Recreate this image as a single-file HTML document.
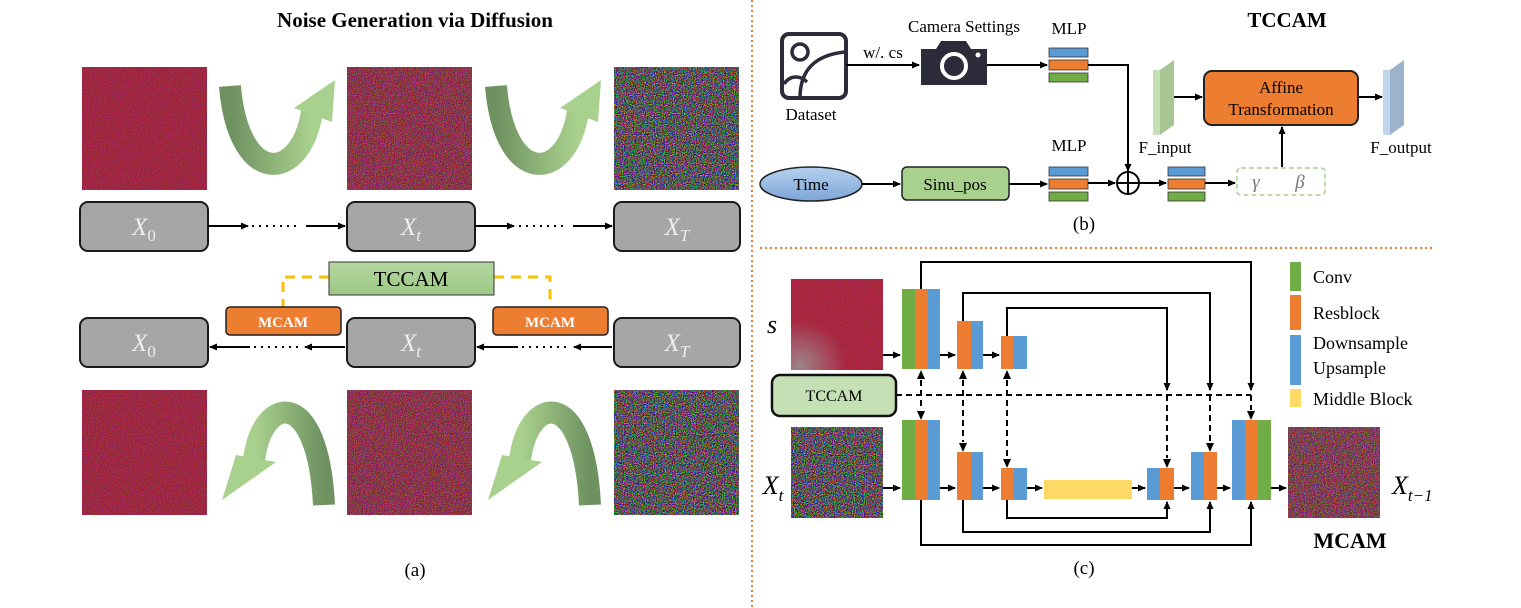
<!DOCTYPE html>
<html><head><meta charset="utf-8"><style>
html,body{margin:0;padding:0;background:#fff;}
svg{display:block;font-family:"Liberation Serif",serif;}
</style></head><body>
<svg width="1521" height="608" viewBox="0 0 1521 608" xmlns="http://www.w3.org/2000/svg">
<defs>
<filter id="nz" x="0" y="0" width="100%" height="100%">
<feTurbulence type="fractalNoise" baseFrequency="0.9" numOctaves="1" seed="3"/>
<feColorMatrix values="4 -1 -1 0 -0.9  -1 4 -1 0 -0.9  -1 -1 4 0 -0.9  0 0 0 0 1"/>
</filter>
<marker id="ah" markerWidth="8" markerHeight="8" refX="7" refY="4" orient="auto" markerUnits="userSpaceOnUse"><path d="M0,0.5 L8,4 L0,7.5 z" fill="#000"/></marker>
<linearGradient id="gA" x1="0" y1="0" x2="1" y2="0"><stop offset="0" stop-color="#6e9160"/><stop offset="1" stop-color="#a9d18e"/></linearGradient>
<linearGradient id="gB" x1="1" y1="0" x2="0" y2="0"><stop offset="0" stop-color="#6e9160"/><stop offset="1" stop-color="#a9d18e"/></linearGradient>
<linearGradient id="tm" x1="0" y1="0" x2="0" y2="1"><stop offset="0" stop-color="#b4d0ee"/><stop offset="1" stop-color="#7ea6d8"/></linearGradient>
<linearGradient id="tg" x1="0" y1="0" x2="0" y2="1"><stop offset="0" stop-color="#b5d7a0"/><stop offset="1" stop-color="#9cc886"/></linearGradient>
<radialGradient id="sg" cx="0.1" cy="0.95" r="0.5"><stop offset="0" stop-color="#9a9a9a" stop-opacity="0.8"/><stop offset="1" stop-color="#9a9a9a" stop-opacity="0"/></radialGradient>
</defs>

<line x1="752" y1="0" x2="752" y2="608" stroke="#ed7d31" stroke-width="2" stroke-dasharray="2,3"/>
<line x1="760" y1="248" x2="1432" y2="248" stroke="#ed7d31" stroke-width="2" stroke-dasharray="2,3"/>

<text x="415" y="27" font-size="21" font-weight="bold" text-anchor="middle">Noise Generation via Diffusion</text>

<g>
<rect x="82" y="67" width="125" height="123" fill="#a8203f"/><rect x="82" y="67" width="125" height="123" filter="url(#nz)" opacity="0.12"/>
<rect x="347" y="67" width="125" height="123" fill="#a02646"/><rect x="347" y="67" width="125" height="123" filter="url(#nz)" opacity="0.3"/>
<rect x="614" y="67" width="125" height="123" fill="#5e4858"/><rect x="614" y="67" width="125" height="123" filter="url(#nz)" opacity="0.7"/>
<rect x="82" y="390" width="125" height="125" fill="#a8203f"/><rect x="82" y="390" width="125" height="125" filter="url(#nz)" opacity="0.15"/>
<rect x="347" y="390" width="125" height="125" fill="#a02646"/><rect x="347" y="390" width="125" height="125" filter="url(#nz)" opacity="0.3"/>
<rect x="614" y="390" width="125" height="125" fill="#5e4858"/><rect x="614" y="390" width="125" height="125" filter="url(#nz)" opacity="0.7"/>
</g>

<g fill="none" stroke-width="22">
<path d="M230,86 C238,185 300,185 312,112" stroke="url(#gA)"/>
<path d="M496,86 C504,185 566,185 578,112" stroke="url(#gA)"/>
<path d="M324,505 C318,385 262,395 254,460" stroke="url(#gB)"/>
<path d="M590,505 C584,385 528,395 520,460" stroke="url(#gB)"/>
</g>
<polygon points="294,108 335,80 332,122" fill="#a9d18e"/>
<polygon points="560,108 601,80 598,122" fill="#a9d18e"/>
<polygon points="236,455 276,462 222,500" fill="#a9d18e"/>
<polygon points="502,455 542,462 488,500" fill="#a9d18e"/>

<g fill="#a6a6a6" stroke="#1a1a1a" stroke-width="2">
<rect x="80" y="202" width="128" height="49" rx="8"/>
<rect x="347" y="202" width="128" height="49" rx="8"/>
<rect x="614" y="202" width="126" height="49" rx="8"/>
<rect x="80" y="318" width="128" height="49" rx="8"/>
<rect x="347" y="318" width="128" height="49" rx="8"/>
<rect x="614" y="318" width="126" height="49" rx="8"/>
</g>
<g fill="#eeeeee" font-style="italic" font-size="25" text-anchor="middle">
<text x="144" y="235">X<tspan font-size="17" font-style="normal" dy="6">0</tspan></text>
<text x="411" y="235">X<tspan font-size="17" dy="6">t</tspan></text>
<text x="677" y="235">X<tspan font-size="17" dy="6">T</tspan></text>
<text x="144" y="351">X<tspan font-size="17" font-style="normal" dy="6">0</tspan></text>
<text x="411" y="351">X<tspan font-size="17" dy="6">t</tspan></text>
<text x="677" y="351">X<tspan font-size="17" dy="6">T</tspan></text>
</g>
<g stroke="#000" stroke-width="2" fill="none">
<line x1="208" y1="226" x2="248" y2="226" marker-end="url(#ah)"/>
<line x1="306" y1="226" x2="345" y2="226" marker-end="url(#ah)"/>
<line x1="475" y1="226" x2="514" y2="226" marker-end="url(#ah)"/>
<line x1="573" y1="226" x2="612" y2="226" marker-end="url(#ah)"/>
<line x1="252" y1="226" x2="298" y2="226" stroke-dasharray="2,5"/>
<line x1="519" y1="226" x2="566" y2="226" stroke-dasharray="2,5"/>
<line x1="250" y1="347" x2="210" y2="347" marker-end="url(#ah)"/>
<line x1="345" y1="347" x2="305" y2="347" marker-end="url(#ah)"/>
<line x1="612" y1="347" x2="574" y2="347" marker-end="url(#ah)"/>
<line x1="518" y1="347" x2="477" y2="347" marker-end="url(#ah)"/>
<line x1="254" y1="347" x2="298" y2="347" stroke-dasharray="2,5"/>
<line x1="522" y1="347" x2="566" y2="347" stroke-dasharray="2,5"/>
</g>
<path d="M329,277 H283 V307 M494,277 H550 V307" stroke="#ffc000" stroke-width="3" fill="none" stroke-dasharray="10,7"/>
<rect x="329" y="262" width="165" height="33" fill="url(#tg)" stroke="#333" stroke-width="1"/>
<text x="411" y="286" font-size="21" text-anchor="middle">TCCAM</text>
<rect x="226" y="307" width="115" height="28" rx="4" fill="#ed7d31" stroke="#222" stroke-width="1.5"/>
<rect x="493" y="307" width="115" height="28" rx="4" fill="#ed7d31" stroke="#222" stroke-width="1.5"/>
<text x="283" y="327" font-size="15" font-weight="bold" fill="#fff" text-anchor="middle">MCAM</text>
<text x="550" y="327" font-size="15" font-weight="bold" fill="#fff" text-anchor="middle">MCAM</text>
<text x="415" y="576" font-size="19" text-anchor="middle">(a)</text>

<text x="1287" y="27" font-size="21" font-weight="bold" text-anchor="middle">TCCAM</text>
<rect x="782" y="34" width="64" height="64" rx="7" fill="#fff" stroke="#2b2b3a" stroke-width="4"/>
<circle cx="800" cy="52" r="8" fill="none" stroke="#2b2b3a" stroke-width="3.5"/>
<path d="M800,98 C800,70 815,55 845,52" fill="none" stroke="#2b2b3a" stroke-width="3.5"/>
<path d="M784,84 C790,75 800,75 807,82" fill="none" stroke="#2b2b3a" stroke-width="3.5"/>
<text x="811" y="120" font-size="17" text-anchor="middle">Dataset</text>
<text x="883" y="58" font-size="17" text-anchor="middle">w/. cs</text>
<line x1="846" y1="65" x2="919" y2="65" stroke="#000" stroke-width="2" marker-end="url(#ah)"/>
<path d="M921,49 H936 L941,41 H966 L971,49 H987 V85 H921 Z" fill="#2b2b3a"/>
<circle cx="954" cy="66" r="12" fill="none" stroke="#fff" stroke-width="4"/>
<circle cx="978" cy="55" r="2.5" fill="#fff"/>
<text x="964" y="32" font-size="17" text-anchor="middle">Camera Settings</text>
<line x1="987" y1="65" x2="1047" y2="65" stroke="#000" stroke-width="2" marker-end="url(#ah)"/>
<text x="1069" y="34" font-size="17" text-anchor="middle">MLP</text>
<g stroke="#333" stroke-width="0.8">
<rect x="1049" y="48" width="39" height="9" fill="#5b9bd5"/>
<rect x="1049" y="60" width="39" height="10" fill="#ed7d31"/>
<rect x="1049" y="73" width="39" height="9" fill="#70ad47"/>
<rect x="1049" y="167" width="39" height="9" fill="#5b9bd5"/>
<rect x="1049" y="179" width="39" height="10" fill="#ed7d31"/>
<rect x="1049" y="192" width="39" height="9" fill="#70ad47"/>
<rect x="1168" y="167" width="37" height="9" fill="#5b9bd5"/>
<rect x="1168" y="179" width="37" height="10" fill="#ed7d31"/>
<rect x="1168" y="192" width="37" height="9" fill="#70ad47"/>
</g>
<text x="1069" y="151" font-size="17" text-anchor="middle">MLP</text>
<path d="M1088,65 H1128 V171" stroke="#000" stroke-width="2" fill="none" marker-end="url(#ah)"/>
<circle cx="1128" cy="183" r="11" fill="none" stroke="#000" stroke-width="2"/>
<line x1="1117" y1="183" x2="1139" y2="183" stroke="#000" stroke-width="2"/>
<line x1="1128" y1="172" x2="1128" y2="194" stroke="#000" stroke-width="2"/>
<ellipse cx="811" cy="184" rx="51" ry="17" fill="url(#tm)" stroke="#222" stroke-width="1.5"/>
<text x="811" y="190" font-size="17" text-anchor="middle">Time</text>
<rect x="902" y="167" width="107" height="33" rx="5" fill="#a9d18e" stroke="#222" stroke-width="1.5"/>
<text x="955" y="190" font-size="17" text-anchor="middle">Sinu_pos</text>
<g stroke="#000" stroke-width="2">
<line x1="862" y1="184" x2="900" y2="184" marker-end="url(#ah)"/>
<line x1="1009" y1="184" x2="1047" y2="184" marker-end="url(#ah)"/>
<line x1="1088" y1="183" x2="1115" y2="183" marker-end="url(#ah)"/>
<line x1="1139" y1="183" x2="1166" y2="183" marker-end="url(#ah)"/>
<line x1="1205" y1="183" x2="1235" y2="183" marker-end="url(#ah)"/>
<line x1="1282" y1="167" x2="1282" y2="127" marker-end="url(#ah)"/>
<line x1="1174" y1="97" x2="1202" y2="97" marker-end="url(#ah)"/>
<line x1="1358" y1="97" x2="1382" y2="97" marker-end="url(#ah)"/>
</g>
<rect x="1237" y="168" width="88" height="27" rx="4" fill="none" stroke="#a9d18e" stroke-width="1.5" stroke-dasharray="5,3"/>
<text x="1256" y="188" font-size="19" font-style="italic" fill="#777" text-anchor="middle">γ</text>
<text x="1300" y="188" font-size="19" font-style="italic" fill="#777" text-anchor="middle">β</text>
<polygon points="1160,70 1174,60 1174,125 1160,135" fill="#a8c594"/>
<polygon points="1153,70 1160,70 1160,135 1153,135" fill="#c5e0b4"/>
<polygon points="1390,70 1404,60 1404,125 1390,135" fill="#9db3cc"/>
<polygon points="1383,70 1390,70 1390,135 1383,135" fill="#bdd7ee"/>
<text x="1165" y="153" font-size="17" text-anchor="middle">F_input</text>
<text x="1401" y="153" font-size="17" text-anchor="middle">F_output</text>
<rect x="1204" y="71" width="154" height="54" rx="8" fill="#ed7d31" stroke="#222" stroke-width="2"/>
<text x="1281" y="93" font-size="17" text-anchor="middle">Affine</text>
<text x="1281" y="115" font-size="17" text-anchor="middle">Transformation</text>
<text x="1084" y="230" font-size="19" text-anchor="middle">(b)</text>

<text x="772" y="333" font-size="26" font-style="italic" text-anchor="middle">s</text>
<rect x="791" y="279" width="92" height="91" fill="#b0223f"/><rect x="791" y="279" width="92" height="91" filter="url(#nz)" opacity="0.08"/>
<rect x="791" y="279" width="92" height="91" fill="url(#sg)"/>
<rect x="791" y="427" width="92" height="91" fill="#5e4858"/><rect x="791" y="427" width="92" height="91" filter="url(#nz)" opacity="0.7"/>
<rect x="1288" y="427" width="92" height="91" fill="#96304c"/><rect x="1288" y="427" width="92" height="91" filter="url(#nz)" opacity="0.4"/>
<text x="773" y="494" font-size="26" font-style="italic" text-anchor="middle">X<tspan font-size="17" dy="7">t</tspan></text>
<text x="1392" y="494" font-size="26" font-style="italic">X<tspan font-size="17" dy="7">t−1</tspan></text>
<text x="1350" y="548" font-size="22" font-weight="bold" text-anchor="middle">MCAM</text>
<text x="1084" y="574" font-size="19" text-anchor="middle">(c)</text>

<g stroke="#000" stroke-width="2" fill="none">
<path d="M921,289 V262 H1251 V390" marker-end="url(#ah)"/>
<path d="M963,321 V293 H1210 V390" marker-end="url(#ah)"/>
<path d="M1007,336 V308 H1167 V390" marker-end="url(#ah)"/>
<path d="M921,500 V545 H1251 V502" marker-end="url(#ah)"/>
<path d="M963,500 V532 H1210 V502" marker-end="url(#ah)"/>
<path d="M1007,500 V518 H1167 V502" marker-end="url(#ah)"/>
<line x1="883" y1="355" x2="900" y2="355" marker-end="url(#ah)"/>
<line x1="940" y1="355" x2="955" y2="355" marker-end="url(#ah)"/>
<line x1="983" y1="355" x2="999" y2="355" marker-end="url(#ah)"/>
<line x1="883" y1="488" x2="900" y2="488" marker-end="url(#ah)"/>
<line x1="940" y1="488" x2="955" y2="488" marker-end="url(#ah)"/>
<line x1="983" y1="488" x2="999" y2="488" marker-end="url(#ah)"/>
<line x1="1027" y1="488" x2="1042" y2="488" marker-end="url(#ah)"/>
<line x1="1132" y1="488" x2="1145" y2="488" marker-end="url(#ah)"/>
<line x1="1174" y1="488" x2="1189" y2="488" marker-end="url(#ah)"/>
<line x1="1217" y1="488" x2="1230" y2="488" marker-end="url(#ah)"/>
<line x1="1271" y1="488" x2="1286" y2="488" marker-end="url(#ah)"/>
</g>
<g stroke="#000" stroke-width="2" fill="none" stroke-dasharray="6,4">
<line x1="896" y1="395" x2="1251" y2="395"/>
<line x1="921" y1="380" x2="921" y2="410"/>
<line x1="963" y1="380" x2="963" y2="442"/>
<line x1="1007" y1="380" x2="1007" y2="458"/>
<line x1="1167" y1="395" x2="1167" y2="458"/>
<line x1="1210" y1="395" x2="1210" y2="442"/>
<line x1="1251" y1="395" x2="1251" y2="410"/>
</g>
<g fill="#000">
<path d="M921,370 l-4,9 h8z"/><path d="M921,420 l-4,-9 h8z"/>
<path d="M963,370 l-4,9 h8z"/><path d="M963,452 l-4,-9 h8z"/>
<path d="M1007,370 l-4,9 h8z"/><path d="M1007,468 l-4,-9 h8z"/>
<path d="M1167,468 l-4,-9 h8z"/><path d="M1210,452 l-4,-9 h8z"/><path d="M1251,420 l-4,-9 h8z"/>
</g>
<rect x="772" y="375" width="124" height="41" rx="8" fill="#c5e0b4" stroke="#111" stroke-width="2.5"/>
<text x="834" y="401" font-size="16" text-anchor="middle">TCCAM</text>

<g>
<rect x="902" y="289" width="13" height="80" fill="#70ad47"/><rect x="915" y="289" width="13" height="80" fill="#ed7d31"/><rect x="928" y="289" width="12" height="80" fill="#5b9bd5"/>
<rect x="957" y="321" width="14" height="48" fill="#ed7d31"/><rect x="971" y="321" width="12" height="48" fill="#5b9bd5"/>
<rect x="1001" y="336" width="13" height="33" fill="#ed7d31"/><rect x="1014" y="336" width="13" height="33" fill="#5b9bd5"/>
<rect x="902" y="420" width="13" height="80" fill="#70ad47"/><rect x="915" y="420" width="13" height="80" fill="#ed7d31"/><rect x="928" y="420" width="12" height="80" fill="#5b9bd5"/>
<rect x="957" y="452" width="14" height="48" fill="#ed7d31"/><rect x="971" y="452" width="12" height="48" fill="#5b9bd5"/>
<rect x="1001" y="468" width="13" height="32" fill="#ed7d31"/><rect x="1014" y="468" width="13" height="32" fill="#5b9bd5"/>
<rect x="1044" y="480" width="88" height="19" fill="#ffd966"/>
<rect x="1147" y="468" width="13" height="32" fill="#5b9bd5"/><rect x="1160" y="468" width="14" height="32" fill="#ed7d31"/>
<rect x="1191" y="452" width="13" height="48" fill="#5b9bd5"/><rect x="1204" y="452" width="13" height="48" fill="#ed7d31"/>
<rect x="1232" y="420" width="13" height="80" fill="#5b9bd5"/><rect x="1245" y="420" width="13" height="80" fill="#ed7d31"/><rect x="1258" y="420" width="13" height="80" fill="#70ad47"/>
</g>
<rect x="1290" y="262" width="11" height="29" fill="#70ad47"/>
<rect x="1290" y="295" width="11" height="35" fill="#ed7d31"/>
<rect x="1290" y="335" width="11" height="50" fill="#5b9bd5"/>
<rect x="1290" y="389" width="11" height="18" fill="#ffd966"/>
<g font-size="18">
<text x="1313" y="283">Conv</text>
<text x="1313" y="319">Resblock</text>
<text x="1313" y="349">Downsample</text>
<text x="1313" y="374">Upsample</text>
<text x="1313" y="405">Middle Block</text>
</g>
</svg>
</body></html>
